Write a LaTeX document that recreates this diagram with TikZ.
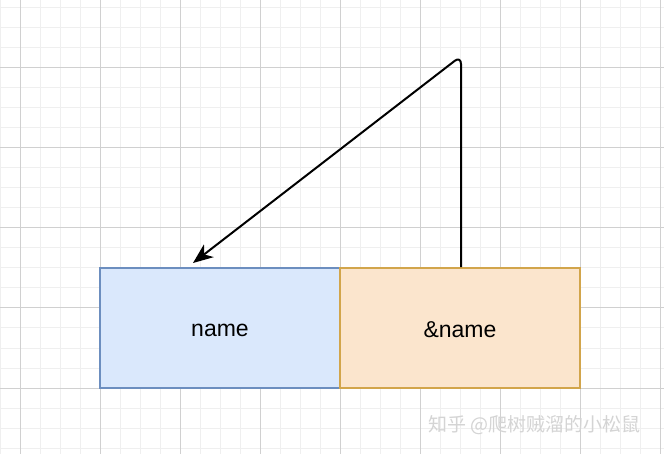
\documentclass[tikz,border=0pt]{standalone}
\usepackage{fontspec}
\setmainfont{Liberation Sans}
\newfontfamily\cjk{Noto Sans CJK SC}
\usetikzlibrary{arrows.meta}
\definecolor{minorgrid}{HTML}{EFEFEF}
\definecolor{majorgrid}{HTML}{D0D0D0}
\definecolor{bluefill}{HTML}{DAE8FC}
\definecolor{bluedraw}{HTML}{6C8EBF}
\definecolor{orangefill}{HTML}{FBE5CD}
\definecolor{orangedraw}{HTML}{D2A54B}
\definecolor{wmgray}{HTML}{D4D4D4}
\tikzset{
  cell/.style={minimum width=240pt, minimum height=120pt, inner sep=0pt, line width=1.6pt,
    text=black},
  celltext/.style={font=\fontsize{23}{26}\selectfont, inner sep=0pt, text=black},
  ptr/.style={line width=2pt, rounded corners=8pt, -{Stealth[length=20pt,width=16pt,inset=6pt]}},
}
\begin{document}
\begin{tikzpicture}[x=1pt,y=-1pt]
\useasboundingbox (0,0) rectangle (664,454);
\fill[white] (0,0) rectangle (664,454);
\foreach \x in {0,20,...,660} \draw[minorgrid, line width=1pt] (\x,0) -- (\x,454);
\foreach \y in {8,28,...,454} \draw[minorgrid, line width=1pt] (0,\y) -- (664,\y);
\foreach \x in {20,100,...,660} \draw[majorgrid, line width=1pt] (\x,0) -- (\x,454);
\foreach \y in {68,148,...,454} \draw[majorgrid, line width=1pt] (0,\y) -- (664,\y);
\node[cell, fill=bluefill, draw=bluedraw] (name) at (220,328) {};
\node[cell, fill=orangefill, draw=orangedraw] (ref) at (460,328) {};
\node[celltext] (namelbl) at (220,330) {name};
\node[celltext] (reflbl) at (460,330) {\&name};
\coordinate (bend) at (461,56);
\coordinate (tip) at (193,263);
\draw[ptr] (ref.north -| 461,0) -- (bend) -- (tip);
\node[font=\cjk\fontsize{19}{22}\selectfont, text=wmgray, anchor=west, inner sep=0pt] (wm) at (428,425) {知乎 @爬树贼溜的小松鼠};
\end{tikzpicture}
\end{document}
